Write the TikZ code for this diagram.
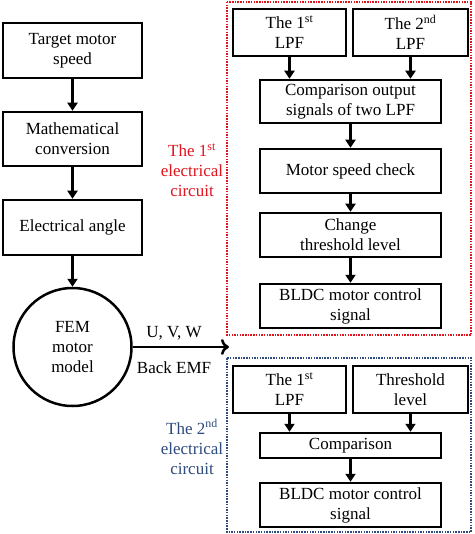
\documentclass[tikz,border=0pt]{standalone}
\usepackage{fontspec}
\setmainfont{Liberation Serif}
\usetikzlibrary{arrows.meta}
\definecolor{cred}{RGB}{225,20,30}
\definecolor{cblue}{RGB}{45,75,125}
\begin{document}
\begin{tikzpicture}[x=1pt,y=-1pt,
  every node/.style={font=\fontsize{17}{20}\selectfont, align=center, inner sep=0pt},
  blk/.style={draw, line width=2.5pt, rectangle},
  arr/.style={line width=2.5pt, -{Triangle[length=8pt,width=10pt]}},
  grp/.style={line width=2.6pt, dash pattern=on 1.5pt off 1.2pt},
]
\useasboundingbox (0,0) rectangle (474,534);
% left column
\node[blk, minimum width=139pt, minimum height=55pt] (t1) at (72.5,50.5) {Target motor\\speed};
\node[blk, minimum width=139pt, minimum height=54pt] (t2) at (72.5,139) {Mathematical\\conversion};
\node[blk, minimum width=139pt, minimum height=55pt] (t3) at (72.5,227.5) {Electrical angle};
\node[draw, line width=2.5pt, circle, minimum size=118pt] (fem) at (72.5,347) {FEM\\motor\\model};
\draw[arr] (t1) -- (t2);
\draw[arr] (t2) -- (t3);
\draw[arr] (t3) -- (fem);
\coordinate (out) at (229,347);
\draw[line width=2.5pt, -{To[length=8pt,width=16pt,line width=2.5pt]}] (fem.east) -- (out);
\node (uvw) at (174,333) {U, V, W};
\node (bemf) at (174,368) {Back EMF};
% first circuit
\draw[grp, cred] (227,2) rectangle (471,335);
\node[text=cred] (c1) at (192,170) {The 1\textsuperscript{st}\\electrical\\circuit};
\node[blk, minimum width=113pt, minimum height=47pt] (l1) at (289.5,32.5) {The 1\textsuperscript{st}\\LPF};
\node[blk, minimum width=115pt, minimum height=47pt] (l2) at (410.5,32.5) {The 2\textsuperscript{nd}\\LPF};
\node[blk, minimum width=181pt, minimum height=43pt] (cmp) at (350.5,101.5) {Comparison output\\signals of two LPF};
\node[blk, minimum width=181pt, minimum height=44pt] (msc) at (350.5,171) {Motor speed check};
\node[blk, minimum width=181pt, minimum height=44pt] (cth) at (350.5,235) {Change\\threshold level};
\node[blk, minimum width=181pt, minimum height=44pt] (b1) at (350.5,306) {BLDC motor control\\signal};
\draw[arr] (l1.south) -- (l1.south |- cmp.north);
\draw[arr] (l2.south) -- (l2.south |- cmp.north);
\draw[arr] (cmp) -- (msc);
\draw[arr] (msc) -- (cth);
\draw[arr] (cth) -- (b1);
% second circuit
\draw[grp, cblue] (227,358) rectangle (471,532);
\node[text=cblue] (c2) at (192,447) {The 2\textsuperscript{nd}\\electrical\\circuit};
\node[blk, minimum width=113pt, minimum height=47pt] (l3) at (289.5,389.5) {The 1\textsuperscript{st}\\LPF};
\node[blk, minimum width=115pt, minimum height=47pt] (thr) at (410.5,389.5) {Threshold\\level};
\node[blk, minimum width=181pt, minimum height=25pt] (cmp2) at (350.5,445.5) {Comparison};
\node[blk, minimum width=181pt, minimum height=44pt] (b2) at (350.5,505) {BLDC motor control\\signal};
\draw[arr] (l3.south) -- (l3.south |- cmp2.north);
\draw[arr] (thr.south) -- (thr.south |- cmp2.north);
\draw[arr] (cmp2) -- (b2);
\end{tikzpicture}
\end{document}
